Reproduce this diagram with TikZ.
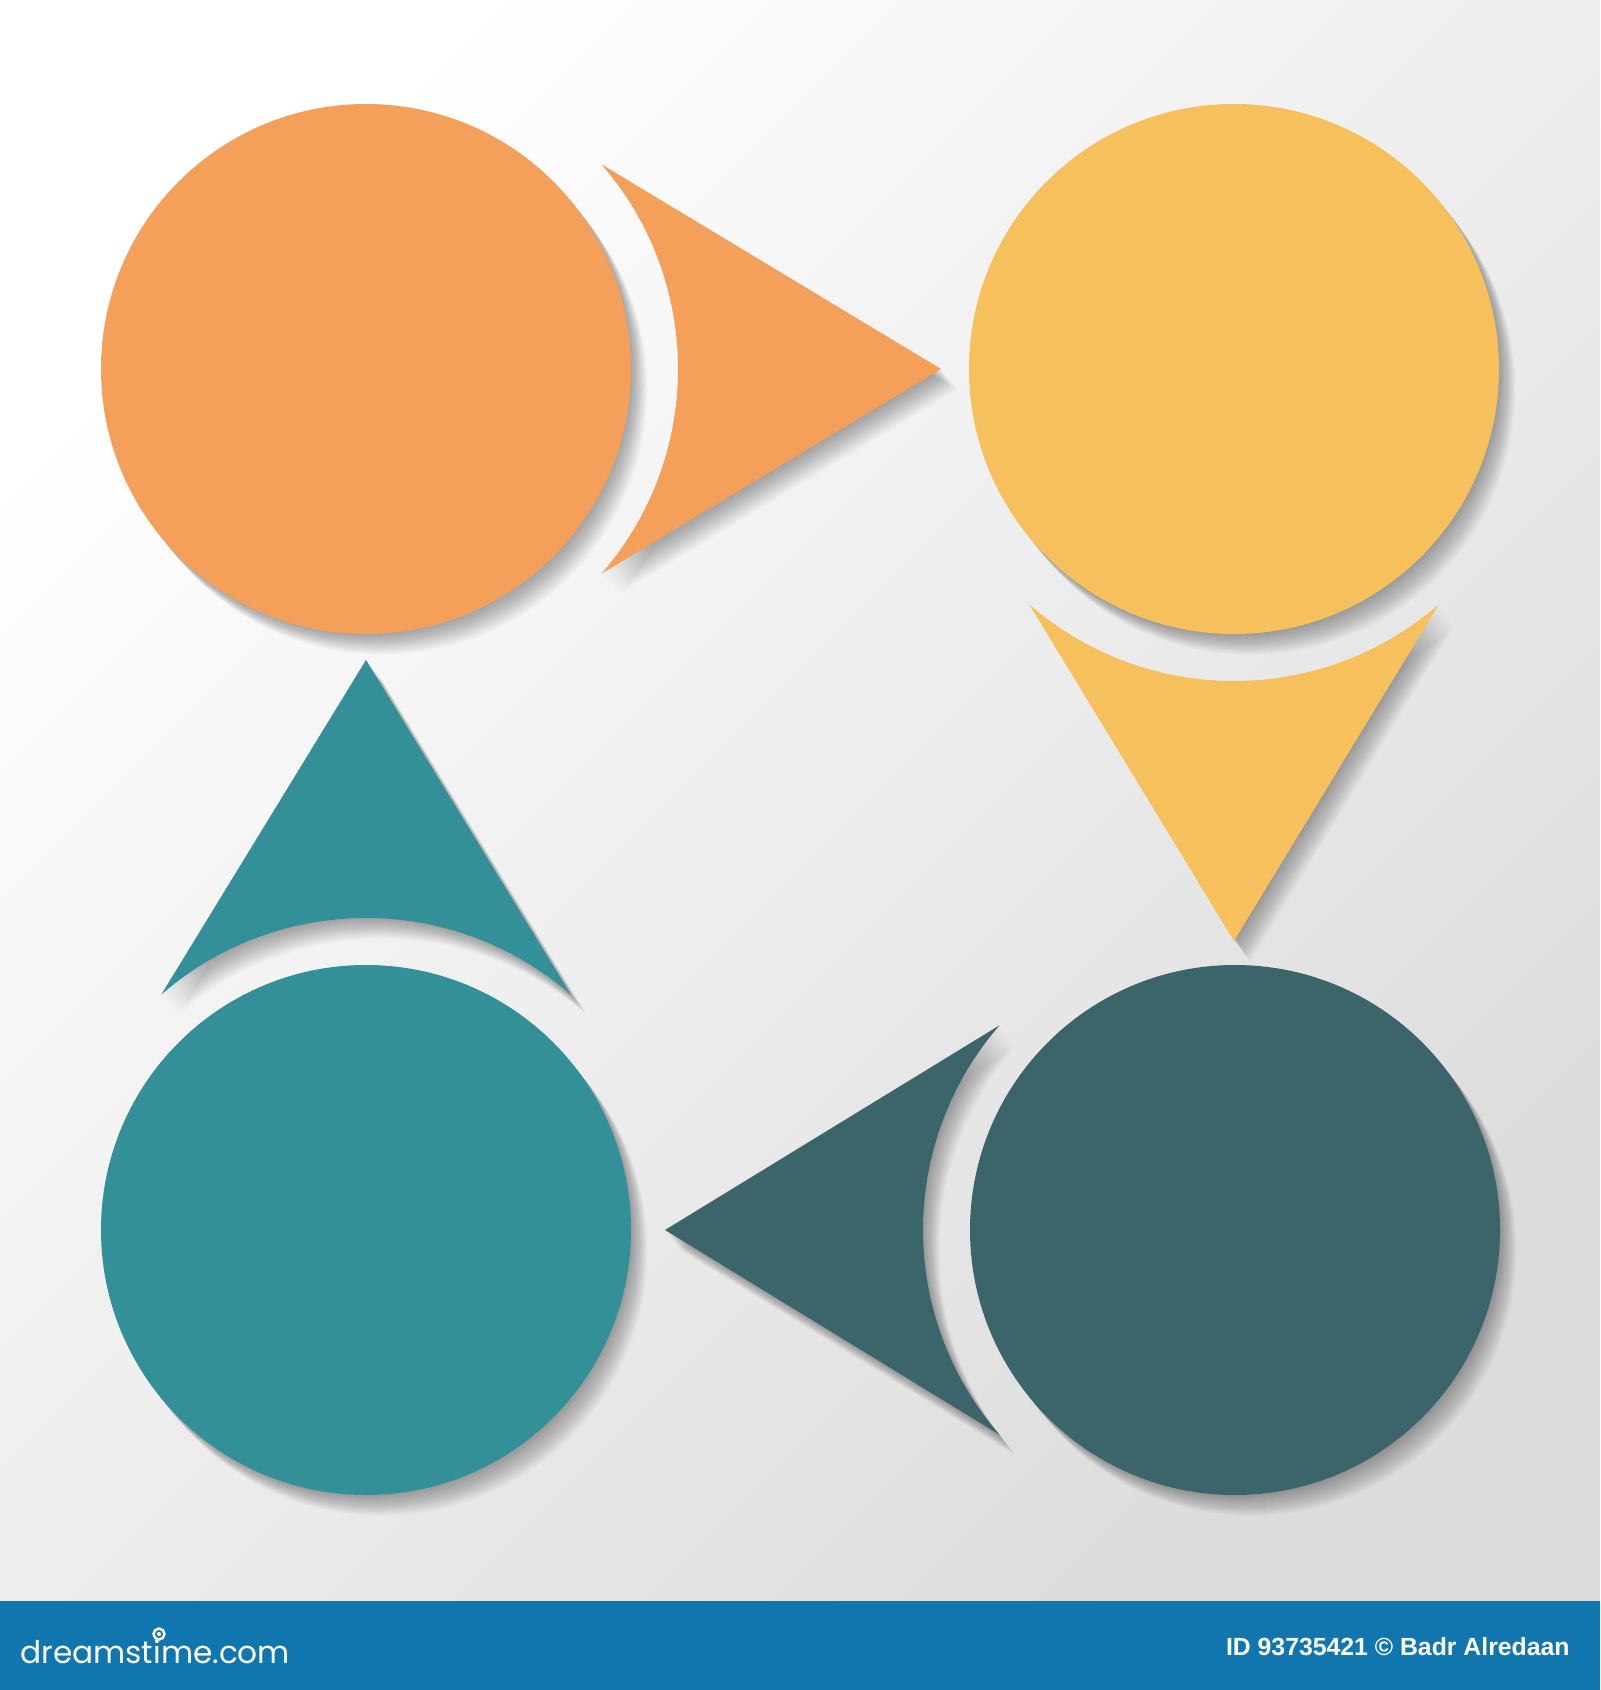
\documentclass[tikz,border=0pt]{standalone}
\usepackage{fontspec}
\usetikzlibrary{calc}
\newfontfamily\logofont{Poppins}
\newfontfamily\idfont{Liberation Sans}
\definecolor{corange}{RGB}{244,160,90}
\definecolor{cyellow}{RGB}{246,192,92}
\definecolor{cteal}{RGB}{52,144,152}
\definecolor{cslate}{RGB}{59,100,107}
\definecolor{cbar}{RGB}{17,118,174}
\definecolor{bgdark}{RGB}{220,220,220}
\tikzset{
  shadowlayer/.style={fill=black, fill opacity=0.015},
  disc/.style={},
  pointer/.style={}
}
\newcommand\pOrange{($(c1)+(-41:312)$) -- ($(c1)+(0:575)$) -- ($(c1)+(41:312)$) arc[start angle=41, end angle=-41, radius=312] -- cycle}
\newcommand\pYellow{($(c2)+(49:312)$) -- ($(c2)+(90:572)$) -- ($(c2)+(131:312)$) arc[start angle=131, end angle=49, radius=312] -- cycle}
\newcommand\pTeal{($(c3)+(-49:312)$) -- ($(c3)+(-90:570)$) -- ($(c3)+(-131:312)$) arc[start angle=-131, end angle=-49, radius=312] -- cycle}
\newcommand\pSlate{($(c4)+(139:312)$) -- ($(c4)+(180:570)$) -- ($(c4)+(221:312)$) arc[start angle=221, end angle=139, radius=312] -- cycle}
\begin{document}
\begin{tikzpicture}[x=0.5pt,y=-0.5pt]
\useasboundingbox (0,0) rectangle (1600,1690);
% background
\shade[top color=white, bottom color=bgdark, shading angle=45] (0,0) rectangle (1600,1601);
% centres
\coordinate (c1) at (366,369);
\coordinate (c2) at (1234,369);
\coordinate (c3) at (366,1230);
\coordinate (c4) at (1235,1230);
% soft shadows (lower right)
\foreach \k in {1,...,22}{
  \begin{scope}[transform canvas={shift={(\k*0.75,\k*0.95)}}]
    \fill[shadowlayer] \pOrange;
    \fill[shadowlayer] \pYellow;
    \fill[shadowlayer] \pTeal;
    \fill[shadowlayer] \pSlate;
    \fill[shadowlayer] (c1) circle[radius=265];
    \fill[shadowlayer] (c2) circle[radius=265];
    \fill[shadowlayer] (c3) circle[radius=265];
    \fill[shadowlayer] (c4) circle[radius=265];
  \end{scope}
}
% pointers
\fill[corange, pointer] \pOrange;
\fill[cyellow, pointer] \pYellow;
\fill[cteal, pointer] \pTeal;
\fill[cslate, pointer] \pSlate;
% discs
\fill[corange, disc] (c1) circle[radius=265];
\fill[cyellow, disc] (c2) circle[radius=265];
\fill[cteal, disc] (c3) circle[radius=265];
\fill[cslate, disc] (c4) circle[radius=265];
% bottom bar
\fill[cbar] (0,1601) rectangle (1600,1690);
\node[anchor=base west, inner sep=0, text=white, font=\logofont\fontsize{15.6}{17}\selectfont] (logo) at (20,1663) {dreamstime.com};
\draw[white, line width=1.2pt] (159,1634) circle[radius=5.5];
\fill[white] (159,1634) circle[radius=2];
\node[anchor=base east, inner sep=0, text=white, font=\idfont\bfseries\fontsize{12.4}{14}\selectfont] (credit) at (1570,1655) {ID 93735421 © Badr Alredaan};
\end{tikzpicture}
\end{document}
